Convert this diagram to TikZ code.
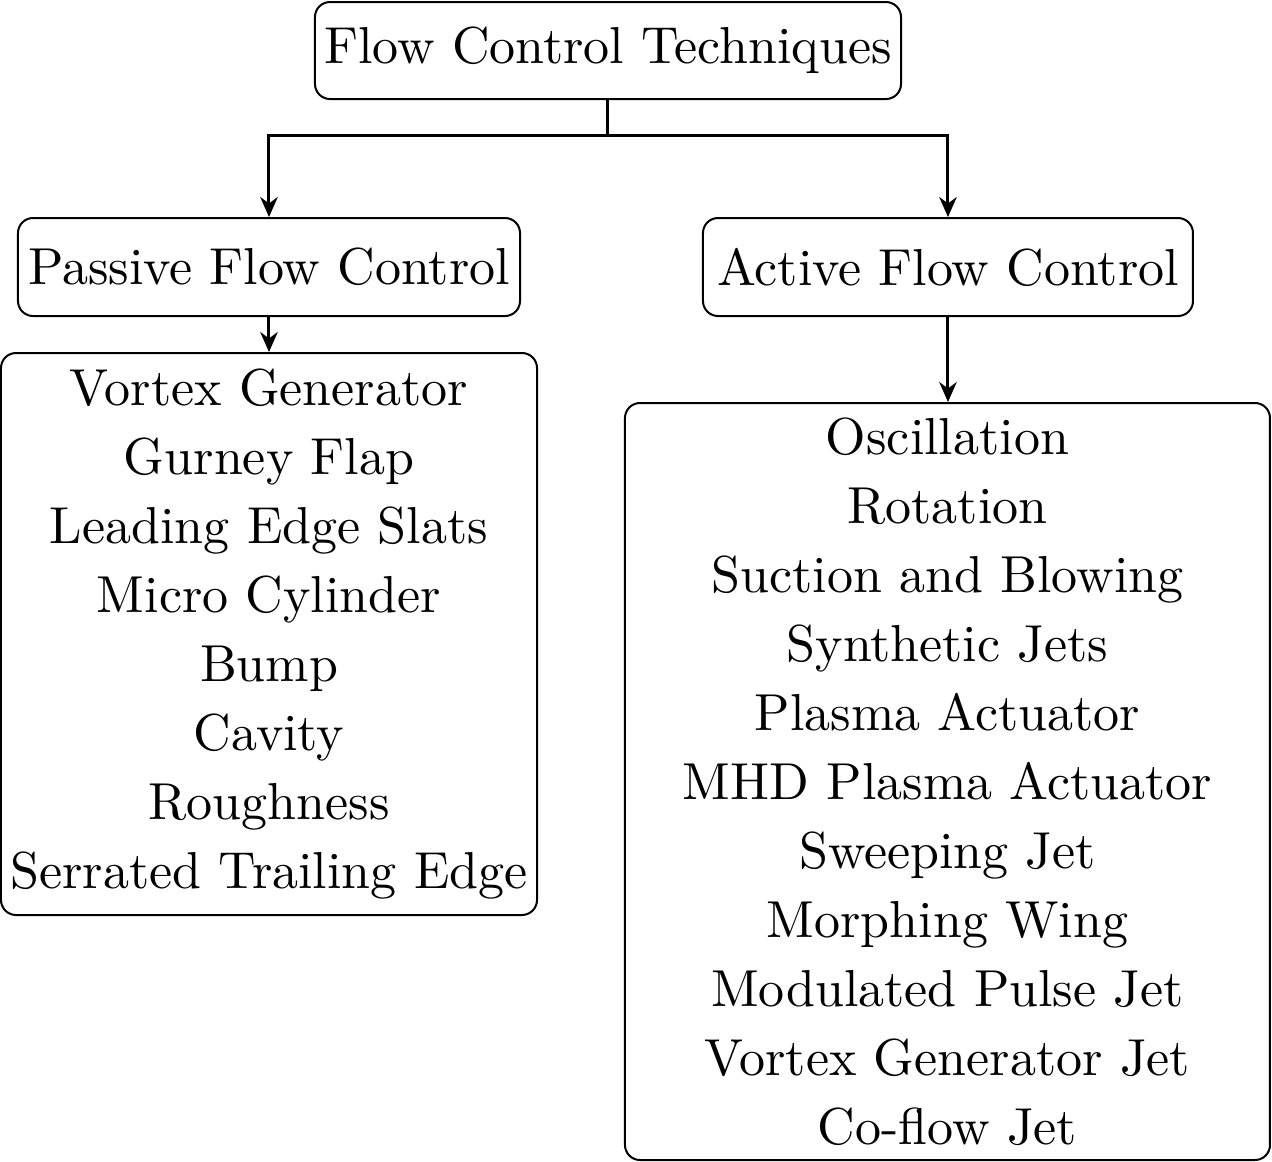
\documentclass[tikz,border=0pt]{standalone}
\usetikzlibrary{arrows.meta}
\begin{document}
\begin{tikzpicture}[x=0.2pt,y=-0.2pt,
 box/.style={draw,rounded corners=3pt,line width=0.4pt,align=center,inner sep=0pt,font=\fontsize{10.4}{13.8}\selectfont},
 conn/.style={line width=0.6pt,-{Stealth[length=4pt,width=3.5pt]}}]
\useasboundingbox (0,0) rectangle (1272,1162);
\node[box,minimum width=117.2pt,minimum height=19.4pt] (top) at (608,50.5) {Flow Control Techniques};
\node[box,minimum width=100.4pt,minimum height=19.6pt] (pas) at (269,267) {Passive Flow Control};
\node[box,minimum width=98pt,minimum height=19.6pt] (act) at (948,267) {Active Flow Control};
\node[box,minimum width=107.2pt,minimum height=112.4pt] (pl) at (269,634) {Vortex Generator\\Gurney Flap\\Leading Edge Slats\\Micro Cylinder\\Bump\\Cavity\\Roughness\\Serrated Trailing Edge};
\node[box,minimum width=129pt,minimum height=151.4pt] (al) at (947.5,781.5) {Oscillation\\Rotation\\Suction and Blowing\\Synthetic Jets\\Plasma Actuator\\MHD Plasma Actuator\\Sweeping Jet\\Morphing Wing\\Modulated Pulse Jet\\Vortex Generator Jet\\Co-flow Jet};
\coordinate (j) at (608,135);
\draw[line width=0.6pt] (top.south) -- (j);
\draw[conn] (j) -| (pas.north);
\draw[conn] (j) -| (act.north);
\draw[conn] (pas.south) -- (pl.north);
\draw[conn] (act.south) -- (act.south |- al.north);
\end{tikzpicture}
\end{document}
